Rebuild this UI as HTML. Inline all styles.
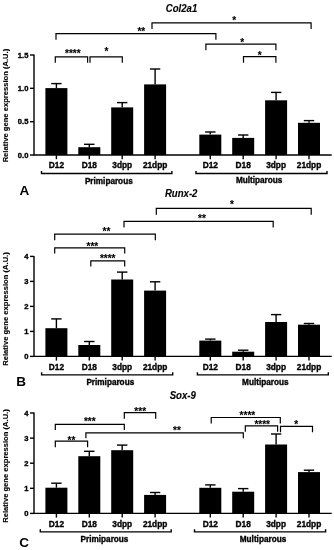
<!DOCTYPE html>
<html><head><meta charset="utf-8"><style>
html,body{margin:0;padding:0;background:#fff;}
svg{display:block;font-family:"Liberation Sans", Arial, sans-serif;}
text{stroke:#000;stroke-width:0.35px;}
</style></head><body>
<svg width="334" height="550" viewBox="0 0 334 550">
<rect width="334" height="550" fill="#fff"/>
<text x="0" y="0" font-size="9.6" font-weight="bold" font-style="italic" text-anchor="middle" style="stroke-width:0.12px" transform="translate(181.50 12.20) scale(1 1.19)">Col2a1</text>
<line x1="34.00" y1="54.50" x2="34.00" y2="155.50" stroke="#000" stroke-width="1.4"/>
<line x1="30.00" y1="55.00" x2="34.00" y2="55.00" stroke="#000" stroke-width="1.4"/>
<text x="28.40" y="57.70" font-size="7.6" text-anchor="end" font-weight="bold" font-style="normal" >1.5</text>
<line x1="30.00" y1="88.30" x2="34.00" y2="88.30" stroke="#000" stroke-width="1.4"/>
<text x="28.40" y="91.00" font-size="7.6" text-anchor="end" font-weight="bold" font-style="normal" >1.0</text>
<line x1="30.00" y1="121.70" x2="34.00" y2="121.70" stroke="#000" stroke-width="1.4"/>
<text x="28.40" y="124.40" font-size="7.6" text-anchor="end" font-weight="bold" font-style="normal" >0.5</text>
<line x1="30.00" y1="155.00" x2="34.00" y2="155.00" stroke="#000" stroke-width="1.4"/>
<text x="28.40" y="157.70" font-size="7.6" text-anchor="end" font-weight="bold" font-style="normal" >0.0</text>
<text x="0" y="0" font-size="7.6" font-weight="bold" text-anchor="middle" style="stroke-width:0.12px" transform="translate(8.0 105.60) rotate(-90)">Relative gene expression (A.U.)</text>
<rect x="45.40" y="88.10" width="22.00" height="66.90" fill="#000"/>
<line x1="56.40" y1="83.60" x2="56.40" y2="88.10" stroke="#000" stroke-width="1.4"/>
<line x1="51.20" y1="83.60" x2="61.60" y2="83.60" stroke="#000" stroke-width="1.4"/>
<rect x="78.30" y="147.20" width="22.00" height="7.80" fill="#000"/>
<line x1="89.30" y1="144.30" x2="89.30" y2="147.20" stroke="#000" stroke-width="1.4"/>
<line x1="84.10" y1="144.30" x2="94.50" y2="144.30" stroke="#000" stroke-width="1.4"/>
<rect x="111.20" y="107.40" width="22.00" height="47.60" fill="#000"/>
<line x1="122.20" y1="102.60" x2="122.20" y2="107.40" stroke="#000" stroke-width="1.4"/>
<line x1="117.00" y1="102.60" x2="127.40" y2="102.60" stroke="#000" stroke-width="1.4"/>
<rect x="144.10" y="84.40" width="22.00" height="70.60" fill="#000"/>
<line x1="155.10" y1="69.00" x2="155.10" y2="84.40" stroke="#000" stroke-width="1.4"/>
<line x1="149.90" y1="69.00" x2="160.30" y2="69.00" stroke="#000" stroke-width="1.4"/>
<rect x="199.30" y="134.60" width="22.00" height="20.40" fill="#000"/>
<line x1="210.30" y1="132.00" x2="210.30" y2="134.60" stroke="#000" stroke-width="1.4"/>
<line x1="205.10" y1="132.00" x2="215.50" y2="132.00" stroke="#000" stroke-width="1.4"/>
<rect x="232.20" y="137.90" width="22.00" height="17.10" fill="#000"/>
<line x1="243.20" y1="135.00" x2="243.20" y2="137.90" stroke="#000" stroke-width="1.4"/>
<line x1="238.00" y1="135.00" x2="248.40" y2="135.00" stroke="#000" stroke-width="1.4"/>
<rect x="265.10" y="100.30" width="22.00" height="54.70" fill="#000"/>
<line x1="276.10" y1="92.40" x2="276.10" y2="100.30" stroke="#000" stroke-width="1.4"/>
<line x1="270.90" y1="92.40" x2="281.30" y2="92.40" stroke="#000" stroke-width="1.4"/>
<rect x="298.00" y="122.80" width="22.00" height="32.20" fill="#000"/>
<line x1="309.00" y1="120.60" x2="309.00" y2="122.80" stroke="#000" stroke-width="1.4"/>
<line x1="303.80" y1="120.60" x2="314.20" y2="120.60" stroke="#000" stroke-width="1.4"/>
<line x1="34.00" y1="155.00" x2="331.70" y2="155.00" stroke="#000" stroke-width="1.4"/>
<line x1="56.40" y1="155.00" x2="56.40" y2="159.20" stroke="#000" stroke-width="1.4"/>
<line x1="89.30" y1="155.00" x2="89.30" y2="159.20" stroke="#000" stroke-width="1.4"/>
<line x1="122.20" y1="155.00" x2="122.20" y2="159.20" stroke="#000" stroke-width="1.4"/>
<line x1="155.10" y1="155.00" x2="155.10" y2="159.20" stroke="#000" stroke-width="1.4"/>
<line x1="210.30" y1="155.00" x2="210.30" y2="159.20" stroke="#000" stroke-width="1.4"/>
<line x1="243.20" y1="155.00" x2="243.20" y2="159.20" stroke="#000" stroke-width="1.4"/>
<line x1="276.10" y1="155.00" x2="276.10" y2="159.20" stroke="#000" stroke-width="1.4"/>
<line x1="309.00" y1="155.00" x2="309.00" y2="159.20" stroke="#000" stroke-width="1.4"/>
<text x="56.40" y="168.30" font-size="8.3" text-anchor="middle" font-weight="bold" font-style="normal" >D12</text>
<text x="89.30" y="168.30" font-size="8.3" text-anchor="middle" font-weight="bold" font-style="normal" >D18</text>
<text x="122.20" y="168.30" font-size="8.3" text-anchor="middle" font-weight="bold" font-style="normal" >3dpp</text>
<text x="155.10" y="168.30" font-size="8.3" text-anchor="middle" font-weight="bold" font-style="normal" >21dpp</text>
<text x="210.30" y="168.30" font-size="8.3" text-anchor="middle" font-weight="bold" font-style="normal" >D12</text>
<text x="243.20" y="168.30" font-size="8.3" text-anchor="middle" font-weight="bold" font-style="normal" >D18</text>
<text x="276.10" y="168.30" font-size="8.3" text-anchor="middle" font-weight="bold" font-style="normal" >3dpp</text>
<text x="309.00" y="168.30" font-size="8.3" text-anchor="middle" font-weight="bold" font-style="normal" >21dpp</text>
<path d="M41.50 170.90V173.50H171.90V170.90" fill="none" stroke="#000" stroke-width="1.4"/>
<text x="108.80" y="183.90" font-size="8.2" text-anchor="middle" font-weight="bold" font-style="normal" >Primiparous</text>
<path d="M196.00 170.90V173.50H327.00V170.90" fill="none" stroke="#000" stroke-width="1.4"/>
<text x="259.10" y="182.50" font-size="8.2" text-anchor="middle" font-weight="bold" font-style="normal" >Multiparous</text>
<text x="19.40" y="195.00" font-size="13.5" text-anchor="start" font-weight="bold" font-style="normal" style="stroke-width:0">A</text>
<path d="M55.30 62.80V56.80H87.60V62.80" fill="none" stroke="#000" stroke-width="1.2"/>
<text x="72.85" y="57.00" font-size="10" text-anchor="middle" font-weight="bold" font-style="normal" style="stroke-width:0.12px">****</text>
<path d="M90.00 62.80V56.80H122.30V62.80" fill="none" stroke="#000" stroke-width="1.2"/>
<text x="106.45" y="55.00" font-size="10" text-anchor="middle" font-weight="bold" font-style="normal" style="stroke-width:0.12px">*</text>
<path d="M56.00 39.70V33.70H215.90V39.70" fill="none" stroke="#000" stroke-width="1.2"/>
<text x="141.30" y="35.00" font-size="10" text-anchor="middle" font-weight="bold" font-style="normal" style="stroke-width:0.12px">**</text>
<path d="M152.00 28.90V22.90H311.10V28.90" fill="none" stroke="#000" stroke-width="1.2"/>
<text x="234.10" y="24.00" font-size="10" text-anchor="middle" font-weight="bold" font-style="normal" style="stroke-width:0.12px">*</text>
<path d="M205.90 50.20V44.20H275.90V50.20" fill="none" stroke="#000" stroke-width="1.2"/>
<text x="242.20" y="46.00" font-size="10" text-anchor="middle" font-weight="bold" font-style="normal" style="stroke-width:0.12px">*</text>
<path d="M243.50 62.70V56.70H275.90V62.70" fill="none" stroke="#000" stroke-width="1.2"/>
<text x="259.70" y="59.00" font-size="10" text-anchor="middle" font-weight="bold" font-style="normal" style="stroke-width:0.12px">*</text>
<text x="0" y="0" font-size="9.6" font-weight="bold" font-style="italic" text-anchor="middle" style="stroke-width:0.12px" transform="translate(181.20 197.00) scale(1 1.19)">Runx-2</text>
<line x1="34.00" y1="255.90" x2="34.00" y2="356.90" stroke="#000" stroke-width="1.4"/>
<line x1="30.00" y1="256.40" x2="34.00" y2="256.40" stroke="#000" stroke-width="1.4"/>
<text x="28.40" y="259.10" font-size="7.6" text-anchor="end" font-weight="bold" font-style="normal" >4</text>
<line x1="30.00" y1="281.40" x2="34.00" y2="281.40" stroke="#000" stroke-width="1.4"/>
<text x="28.40" y="284.10" font-size="7.6" text-anchor="end" font-weight="bold" font-style="normal" >3</text>
<line x1="30.00" y1="306.40" x2="34.00" y2="306.40" stroke="#000" stroke-width="1.4"/>
<text x="28.40" y="309.10" font-size="7.6" text-anchor="end" font-weight="bold" font-style="normal" >2</text>
<line x1="30.00" y1="331.40" x2="34.00" y2="331.40" stroke="#000" stroke-width="1.4"/>
<text x="28.40" y="334.10" font-size="7.6" text-anchor="end" font-weight="bold" font-style="normal" >1</text>
<line x1="30.00" y1="356.40" x2="34.00" y2="356.40" stroke="#000" stroke-width="1.4"/>
<text x="28.40" y="359.10" font-size="7.6" text-anchor="end" font-weight="bold" font-style="normal" >0</text>
<text x="0" y="0" font-size="7.6" font-weight="bold" text-anchor="middle" style="stroke-width:0.12px" transform="translate(8.0 309.00) rotate(-90)">Relative gene expression (A.U.)</text>
<rect x="45.40" y="328.20" width="22.00" height="28.20" fill="#000"/>
<line x1="56.40" y1="318.90" x2="56.40" y2="328.20" stroke="#000" stroke-width="1.4"/>
<line x1="51.20" y1="318.90" x2="61.60" y2="318.90" stroke="#000" stroke-width="1.4"/>
<rect x="78.30" y="345.00" width="22.00" height="11.40" fill="#000"/>
<line x1="89.30" y1="341.50" x2="89.30" y2="345.00" stroke="#000" stroke-width="1.4"/>
<line x1="84.10" y1="341.50" x2="94.50" y2="341.50" stroke="#000" stroke-width="1.4"/>
<rect x="111.20" y="279.50" width="22.00" height="76.90" fill="#000"/>
<line x1="122.20" y1="272.10" x2="122.20" y2="279.50" stroke="#000" stroke-width="1.4"/>
<line x1="117.00" y1="272.10" x2="127.40" y2="272.10" stroke="#000" stroke-width="1.4"/>
<rect x="144.10" y="290.60" width="22.00" height="65.80" fill="#000"/>
<line x1="155.10" y1="281.80" x2="155.10" y2="290.60" stroke="#000" stroke-width="1.4"/>
<line x1="149.90" y1="281.80" x2="160.30" y2="281.80" stroke="#000" stroke-width="1.4"/>
<rect x="199.30" y="340.60" width="22.00" height="15.80" fill="#000"/>
<line x1="210.30" y1="339.10" x2="210.30" y2="340.60" stroke="#000" stroke-width="1.4"/>
<line x1="205.10" y1="339.10" x2="215.50" y2="339.10" stroke="#000" stroke-width="1.4"/>
<rect x="232.20" y="351.70" width="22.00" height="4.70" fill="#000"/>
<line x1="243.20" y1="350.20" x2="243.20" y2="351.70" stroke="#000" stroke-width="1.4"/>
<line x1="238.00" y1="350.20" x2="248.40" y2="350.20" stroke="#000" stroke-width="1.4"/>
<rect x="265.10" y="322.00" width="22.00" height="34.40" fill="#000"/>
<line x1="276.10" y1="314.60" x2="276.10" y2="322.00" stroke="#000" stroke-width="1.4"/>
<line x1="270.90" y1="314.60" x2="281.30" y2="314.60" stroke="#000" stroke-width="1.4"/>
<rect x="298.00" y="324.70" width="22.00" height="31.70" fill="#000"/>
<line x1="309.00" y1="323.50" x2="309.00" y2="324.70" stroke="#000" stroke-width="1.4"/>
<line x1="303.80" y1="323.50" x2="314.20" y2="323.50" stroke="#000" stroke-width="1.4"/>
<line x1="34.00" y1="356.40" x2="331.70" y2="356.40" stroke="#000" stroke-width="1.4"/>
<line x1="56.40" y1="356.40" x2="56.40" y2="360.60" stroke="#000" stroke-width="1.4"/>
<line x1="89.30" y1="356.40" x2="89.30" y2="360.60" stroke="#000" stroke-width="1.4"/>
<line x1="122.20" y1="356.40" x2="122.20" y2="360.60" stroke="#000" stroke-width="1.4"/>
<line x1="155.10" y1="356.40" x2="155.10" y2="360.60" stroke="#000" stroke-width="1.4"/>
<line x1="210.30" y1="356.40" x2="210.30" y2="360.60" stroke="#000" stroke-width="1.4"/>
<line x1="243.20" y1="356.40" x2="243.20" y2="360.60" stroke="#000" stroke-width="1.4"/>
<line x1="276.10" y1="356.40" x2="276.10" y2="360.60" stroke="#000" stroke-width="1.4"/>
<line x1="309.00" y1="356.40" x2="309.00" y2="360.60" stroke="#000" stroke-width="1.4"/>
<text x="56.40" y="369.70" font-size="8.3" text-anchor="middle" font-weight="bold" font-style="normal" >D12</text>
<text x="89.30" y="369.70" font-size="8.3" text-anchor="middle" font-weight="bold" font-style="normal" >D18</text>
<text x="122.20" y="369.70" font-size="8.3" text-anchor="middle" font-weight="bold" font-style="normal" >3dpp</text>
<text x="155.10" y="369.70" font-size="8.3" text-anchor="middle" font-weight="bold" font-style="normal" >21dpp</text>
<text x="210.30" y="369.70" font-size="8.3" text-anchor="middle" font-weight="bold" font-style="normal" >D12</text>
<text x="243.20" y="369.70" font-size="8.3" text-anchor="middle" font-weight="bold" font-style="normal" >D18</text>
<text x="276.10" y="369.70" font-size="8.3" text-anchor="middle" font-weight="bold" font-style="normal" >3dpp</text>
<text x="309.00" y="369.70" font-size="8.3" text-anchor="middle" font-weight="bold" font-style="normal" >21dpp</text>
<path d="M41.60 372.30V374.90H172.70V372.30" fill="none" stroke="#000" stroke-width="1.4"/>
<text x="110.30" y="385.00" font-size="8.2" text-anchor="middle" font-weight="bold" font-style="normal" >Primiparous</text>
<path d="M197.40 372.30V374.90H328.30V372.30" fill="none" stroke="#000" stroke-width="1.4"/>
<text x="265.30" y="385.00" font-size="8.2" text-anchor="middle" font-weight="bold" font-style="normal" >Multiparous</text>
<text x="16.30" y="386.00" font-size="13.5" text-anchor="start" font-weight="bold" font-style="normal" style="stroke-width:0">B</text>
<path d="M54.70 240.20V234.20H155.30V240.20" fill="none" stroke="#000" stroke-width="1.2"/>
<text x="106.40" y="235.00" font-size="10" text-anchor="middle" font-weight="bold" font-style="normal" style="stroke-width:0.12px">**</text>
<path d="M54.70 253.40V247.80H124.70V253.40" fill="none" stroke="#000" stroke-width="1.2"/>
<text x="92.40" y="250.00" font-size="10" text-anchor="middle" font-weight="bold" font-style="normal" style="stroke-width:0.12px">***</text>
<path d="M90.80 266.60V260.80H124.70V266.60" fill="none" stroke="#000" stroke-width="1.2"/>
<text x="107.70" y="262.00" font-size="10" text-anchor="middle" font-weight="bold" font-style="normal" style="stroke-width:0.12px">****</text>
<path d="M124.00 227.40V221.40H273.20V227.40" fill="none" stroke="#000" stroke-width="1.2"/>
<text x="202.00" y="222.00" font-size="10" text-anchor="middle" font-weight="bold" font-style="normal" style="stroke-width:0.12px">**</text>
<path d="M156.30 214.80V208.40H311.20V214.80" fill="none" stroke="#000" stroke-width="1.2"/>
<text x="231.90" y="208.00" font-size="10" text-anchor="middle" font-weight="bold" font-style="normal" style="stroke-width:0.12px">*</text>
<text x="0" y="0" font-size="9.6" font-weight="bold" font-style="italic" text-anchor="middle" style="stroke-width:0.12px" transform="translate(182.70 399.40) scale(1 1.19)">Sox-9</text>
<line x1="34.00" y1="412.50" x2="34.00" y2="513.90" stroke="#000" stroke-width="1.4"/>
<line x1="30.00" y1="413.00" x2="34.00" y2="413.00" stroke="#000" stroke-width="1.4"/>
<text x="28.40" y="415.70" font-size="7.6" text-anchor="end" font-weight="bold" font-style="normal" >4</text>
<line x1="30.00" y1="438.10" x2="34.00" y2="438.10" stroke="#000" stroke-width="1.4"/>
<text x="28.40" y="440.80" font-size="7.6" text-anchor="end" font-weight="bold" font-style="normal" >3</text>
<line x1="30.00" y1="463.20" x2="34.00" y2="463.20" stroke="#000" stroke-width="1.4"/>
<text x="28.40" y="465.90" font-size="7.6" text-anchor="end" font-weight="bold" font-style="normal" >2</text>
<line x1="30.00" y1="488.30" x2="34.00" y2="488.30" stroke="#000" stroke-width="1.4"/>
<text x="28.40" y="491.00" font-size="7.6" text-anchor="end" font-weight="bold" font-style="normal" >1</text>
<line x1="30.00" y1="513.40" x2="34.00" y2="513.40" stroke="#000" stroke-width="1.4"/>
<text x="28.40" y="516.10" font-size="7.6" text-anchor="end" font-weight="bold" font-style="normal" >0</text>
<text x="0" y="0" font-size="7.6" font-weight="bold" text-anchor="middle" style="stroke-width:0.12px" transform="translate(8.0 466.00) rotate(-90)">Relative gene expression (A.U.)</text>
<rect x="45.40" y="487.70" width="22.00" height="25.70" fill="#000"/>
<line x1="56.40" y1="483.20" x2="56.40" y2="487.70" stroke="#000" stroke-width="1.4"/>
<line x1="51.20" y1="483.20" x2="61.60" y2="483.20" stroke="#000" stroke-width="1.4"/>
<rect x="78.30" y="456.20" width="22.00" height="57.20" fill="#000"/>
<line x1="89.30" y1="451.30" x2="89.30" y2="456.20" stroke="#000" stroke-width="1.4"/>
<line x1="84.10" y1="451.30" x2="94.50" y2="451.30" stroke="#000" stroke-width="1.4"/>
<rect x="111.20" y="450.20" width="22.00" height="63.20" fill="#000"/>
<line x1="122.20" y1="445.10" x2="122.20" y2="450.20" stroke="#000" stroke-width="1.4"/>
<line x1="117.00" y1="445.10" x2="127.40" y2="445.10" stroke="#000" stroke-width="1.4"/>
<rect x="144.10" y="494.90" width="22.00" height="18.50" fill="#000"/>
<line x1="155.10" y1="492.50" x2="155.10" y2="494.90" stroke="#000" stroke-width="1.4"/>
<line x1="149.90" y1="492.50" x2="160.30" y2="492.50" stroke="#000" stroke-width="1.4"/>
<rect x="199.30" y="487.80" width="22.00" height="25.60" fill="#000"/>
<line x1="210.30" y1="484.90" x2="210.30" y2="487.80" stroke="#000" stroke-width="1.4"/>
<line x1="205.10" y1="484.90" x2="215.50" y2="484.90" stroke="#000" stroke-width="1.4"/>
<rect x="232.20" y="491.70" width="22.00" height="21.70" fill="#000"/>
<line x1="243.20" y1="488.60" x2="243.20" y2="491.70" stroke="#000" stroke-width="1.4"/>
<line x1="238.00" y1="488.60" x2="248.40" y2="488.60" stroke="#000" stroke-width="1.4"/>
<rect x="265.10" y="444.50" width="22.00" height="68.90" fill="#000"/>
<line x1="276.10" y1="434.00" x2="276.10" y2="444.50" stroke="#000" stroke-width="1.4"/>
<line x1="270.90" y1="434.00" x2="281.30" y2="434.00" stroke="#000" stroke-width="1.4"/>
<rect x="298.00" y="472.10" width="22.00" height="41.30" fill="#000"/>
<line x1="309.00" y1="470.20" x2="309.00" y2="472.10" stroke="#000" stroke-width="1.4"/>
<line x1="303.80" y1="470.20" x2="314.20" y2="470.20" stroke="#000" stroke-width="1.4"/>
<line x1="34.00" y1="513.40" x2="331.70" y2="513.40" stroke="#000" stroke-width="1.4"/>
<line x1="56.40" y1="513.40" x2="56.40" y2="517.60" stroke="#000" stroke-width="1.4"/>
<line x1="89.30" y1="513.40" x2="89.30" y2="517.60" stroke="#000" stroke-width="1.4"/>
<line x1="122.20" y1="513.40" x2="122.20" y2="517.60" stroke="#000" stroke-width="1.4"/>
<line x1="155.10" y1="513.40" x2="155.10" y2="517.60" stroke="#000" stroke-width="1.4"/>
<line x1="210.30" y1="513.40" x2="210.30" y2="517.60" stroke="#000" stroke-width="1.4"/>
<line x1="243.20" y1="513.40" x2="243.20" y2="517.60" stroke="#000" stroke-width="1.4"/>
<line x1="276.10" y1="513.40" x2="276.10" y2="517.60" stroke="#000" stroke-width="1.4"/>
<line x1="309.00" y1="513.40" x2="309.00" y2="517.60" stroke="#000" stroke-width="1.4"/>
<text x="56.40" y="526.70" font-size="8.3" text-anchor="middle" font-weight="bold" font-style="normal" >D12</text>
<text x="89.30" y="526.70" font-size="8.3" text-anchor="middle" font-weight="bold" font-style="normal" >D18</text>
<text x="122.20" y="526.70" font-size="8.3" text-anchor="middle" font-weight="bold" font-style="normal" >3dpp</text>
<text x="155.10" y="526.70" font-size="8.3" text-anchor="middle" font-weight="bold" font-style="normal" >21dpp</text>
<text x="210.30" y="526.70" font-size="8.3" text-anchor="middle" font-weight="bold" font-style="normal" >D12</text>
<text x="243.20" y="526.70" font-size="8.3" text-anchor="middle" font-weight="bold" font-style="normal" >D18</text>
<text x="276.10" y="526.70" font-size="8.3" text-anchor="middle" font-weight="bold" font-style="normal" >3dpp</text>
<text x="309.00" y="526.70" font-size="8.3" text-anchor="middle" font-weight="bold" font-style="normal" >21dpp</text>
<path d="M40.30 529.30V531.90H171.20V529.30" fill="none" stroke="#000" stroke-width="1.4"/>
<text x="104.50" y="541.60" font-size="8.2" text-anchor="middle" font-weight="bold" font-style="normal" >Primiparous</text>
<path d="M194.50 529.30V531.90H325.60V529.30" fill="none" stroke="#000" stroke-width="1.4"/>
<text x="263.00" y="542.00" font-size="8.2" text-anchor="middle" font-weight="bold" font-style="normal" >Multiparous</text>
<text x="19.30" y="547.00" font-size="13.5" text-anchor="start" font-weight="bold" font-style="normal" style="stroke-width:0">C</text>
<path d="M55.30 447.20V441.20H87.60V447.20" fill="none" stroke="#000" stroke-width="1.2"/>
<text x="71.50" y="444.00" font-size="10" text-anchor="middle" font-weight="bold" font-style="normal" style="stroke-width:0.12px">**</text>
<path d="M55.30 429.90V424.30H124.30V429.90" fill="none" stroke="#000" stroke-width="1.2"/>
<text x="89.80" y="425.00" font-size="10" text-anchor="middle" font-weight="bold" font-style="normal" style="stroke-width:0.12px">***</text>
<path d="M85.90 438.30V432.80H243.30V438.30" fill="none" stroke="#000" stroke-width="1.2"/>
<text x="177.00" y="434.00" font-size="10" text-anchor="middle" font-weight="bold" font-style="normal" style="stroke-width:0.12px">**</text>
<path d="M124.30 418.70V412.70H155.70V418.70" fill="none" stroke="#000" stroke-width="1.2"/>
<text x="140.20" y="415.00" font-size="10" text-anchor="middle" font-weight="bold" font-style="normal" style="stroke-width:0.12px">***</text>
<path d="M211.20 423.50V417.50H280.30V423.50" fill="none" stroke="#000" stroke-width="1.2"/>
<text x="247.40" y="419.00" font-size="10" text-anchor="middle" font-weight="bold" font-style="normal" style="stroke-width:0.12px">****</text>
<path d="M245.30 431.80V425.90H277.60V431.80" fill="none" stroke="#000" stroke-width="1.2"/>
<text x="262.20" y="428.00" font-size="10" text-anchor="middle" font-weight="bold" font-style="normal" style="stroke-width:0.12px">****</text>
<path d="M280.50 432.20V426.40H312.50V432.20" fill="none" stroke="#000" stroke-width="1.2"/>
<text x="296.30" y="428.00" font-size="10" text-anchor="middle" font-weight="bold" font-style="normal" style="stroke-width:0.12px">*</text>
</svg>
</body></html>
